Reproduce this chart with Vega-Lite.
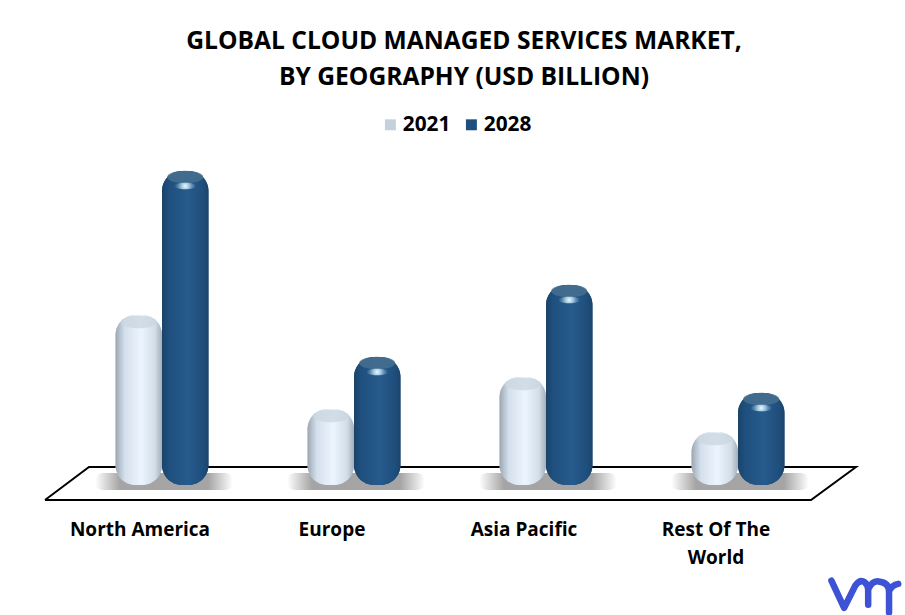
{
"$schema":"https://vega.github.io/schema/vega-lite/v6.json",
"width":768,"height":330,
"autosize":{"type":"none"},
"padding":{"left":66,"top":170,"right":71,"bottom":115},
"background":"white",
"config":{"view":{"stroke":null},"font":"Open Sans"},
"title":{"text":["GLOBAL CLOUD MANAGED SERVICES MARKET,","BY GEOGRAPHY (USD BILLION)"],"font":"Open Sans","fontSize":24.6,"fontWeight":700,"color":"#000000","lineHeight":36,"anchor":"middle","frame":"group","dx":14,"offset":23},
"datasets":{
"sales":[
{"region":"North America","year":"2021","value":42.5},
{"region":"North America","year":"2028","value":78.5},
{"region":"Europe","year":"2021","value":19},
{"region":"Europe","year":"2028","value":32},
{"region":"Asia Pacific","year":"2021","value":27},
{"region":"Asia Pacific","year":"2028","value":50},
{"region":"Rest Of The World","year":"2021","value":13.25},
{"region":"Rest Of The World","year":"2028","value":23}
],
"floor":[
{"fx":-21,"fy":-3.75,"k":0},
{"fx":745,"fy":-3.75,"k":1},
{"fx":790,"fy":4.5,"k":2},
{"fx":23,"fy":4.5,"k":3},
{"fx":-21,"fy":-3.75,"k":4}
],
"shadow":[
{"x0":29,"x1":167,"y0":3,"y1":-1.25},
{"x0":221,"x1":359,"y0":3,"y1":-1.25},
{"x0":413,"x1":551,"y0":3,"y1":-1.25},
{"x0":605,"x1":743,"y0":3,"y1":-1.25}
],
"logo":[{"lx":799,"ly":-27.9,"name":"vmr"}]
},
"data":{"name":"sales"},
"resolve":{"scale":{"x":"independent"}},
"layer":[
{"data":{"name":"floor"},
 "mark":{"type":"line","stroke":"#000000","strokeWidth":2,"clip":false},
 "encoding":{
  "x":{"field":"fx","type":"quantitative","axis":null,"scale":{"domain":[0,768],"nice":false,"zero":false}},
  "y":{"field":"fy","type":"quantitative","axis":null,"scale":{"domain":[-3.75,78.75],"nice":false,"zero":false}},
  "order":{"field":"k","type":"quantitative"}
 }},
{"data":{"name":"shadow"},
 "mark":{"type":"rect","cornerRadius":8,"fill":{"x1":0,"y1":0,"x2":1,"y2":0,"gradient":"linear","stops":[{"offset":0,"color":"rgba(130,130,130,0)"},{"offset":0.18,"color":"rgba(130,130,130,0.72)"},{"offset":0.82,"color":"rgba(130,130,130,0.72)"},{"offset":1,"color":"rgba(130,130,130,0)"}]}},
 "encoding":{
  "x":{"field":"x0","type":"quantitative","axis":null,"scale":{"domain":[0,768],"nice":false,"zero":false}},
  "x2":{"field":"x1"},
  "y":{"field":"y0","type":"quantitative","axis":null,"scale":{"domain":[-3.75,78.75],"nice":false,"zero":false}},
  "y2":{"field":"y1"}
 }},
{"mark":{"type":"bar","cornerRadius":20},
 "encoding":{
  "x":{"field":"region","type":"nominal","sort":null,"scale":{"paddingInner":0.516,"paddingOuter":0.258},
   "axis":{"title":null,"domain":false,"ticks":false,"labelAngle":0,"labelOffset":-22,"labelPadding":29,"labelFont":"Open Sans","labelFontSize":19,"labelFontWeight":700,"labelColor":"#000000","labelLineHeight":28,"labelLimit":300,"labelBaseline":"middle","labelExpr":"datum.label == 'Rest Of The World' ? ['Rest Of The','World'] : datum.label"}},
  "xOffset":{"field":"year","type":"nominal","scale":{"domain":["2021","2028"]}},
  "y":{"field":"value","type":"quantitative","axis":null,"scale":{"domain":[-3.75,78.75],"nice":false,"zero":false}},
  "y2":{"datum":0},
  "fill":{"field":"year","type":"nominal","scale":{"domain":["2021","2028"],"range":["#c4d0dc","#1f4f7e"]},
  "legend":{"title":null,"orient":"none","legendX":314,"legendY":-56,"direction":"horizontal","symbolType":"square","symbolSize":120,"symbolStrokeWidth":0,"labelFont":"Open Sans","labelFontSize":20.8,"labelFontWeight":700,"labelColor":"#000000","columnPadding":10,"labelOffset":2}}
 }},
{"transform":[{"filter":"datum.year == '2021'"}],
 "mark":{"type":"bar","cornerRadius":20,"fill":{"x1":0,"y1":0,"x2":1,"y2":0,"gradient":"linear","stops":[{"offset":0,"color":"#9ca7b2"},{"offset":0.2,"color":"#d4e0ec"},{"offset":0.55,"color":"#ecf5fe"},{"offset":0.85,"color":"#d2dde8"},{"offset":1,"color":"#a4aeb8"}]}},
 "encoding":{
  "x":{"field":"region","type":"nominal","sort":null,"scale":{"paddingInner":0.516,"paddingOuter":0.258},"axis":null},
  "xOffset":{"field":"year","type":"nominal","scale":{"domain":["2021","2028"]}},
  "y":{"field":"value","type":"quantitative","axis":null,"scale":{"domain":[-3.75,78.75],"nice":false,"zero":false}},
  "y2":{"datum":0}
 }},
{"transform":[{"filter":"datum.year == '2028'"}],
 "mark":{"type":"bar","cornerRadius":20,"fill":{"x1":0,"y1":0,"x2":1,"y2":0,"gradient":"linear","stops":[{"offset":0,"color":"#1b4369"},{"offset":0.15,"color":"#1f4f7e"},{"offset":0.55,"color":"#265b8c"},{"offset":0.88,"color":"#1f4e7c"},{"offset":1,"color":"#1b4369"}]}},
 "encoding":{
  "x":{"field":"region","type":"nominal","sort":null,"scale":{"paddingInner":0.516,"paddingOuter":0.258},"axis":null},
  "xOffset":{"field":"year","type":"nominal","scale":{"domain":["2021","2028"]}},
  "y":{"field":"value","type":"quantitative","axis":null,"scale":{"domain":[-3.75,78.75],"nice":false,"zero":false}},
  "y2":{"datum":0}
 }},
{"transform":[{"filter":"datum.year == '2028'"}],
 "mark":{"type":"point","filled":true,"shape":"M-1,0 A1,0.35 0 1,1 1,0 A1,0.35 0 1,1 -1,0 Z","size":1300,"fill":"#47708f","opacity":0.85,"yOffset":6},
 "encoding":{
  "x":{"field":"region","type":"nominal","sort":null,"scale":{"paddingInner":0.516,"paddingOuter":0.258},"axis":null},
  "xOffset":{"field":"year","type":"nominal","scale":{"domain":["2021","2028"]}},
  "y":{"field":"value","type":"quantitative","axis":null,"scale":{"domain":[-3.75,78.75],"nice":false,"zero":false}}
 }},
{"transform":[{"filter":"datum.year == '2028'"}],
 "mark":{"type":"point","filled":true,"shape":"M-1,0 A1,0.3 0 1,1 1,0 A1,0.3 0 1,1 -1,0 Z","size":500,"opacity":1,"yOffset":15,"fill":{"gradient":"radial","x1":0.5,"y1":0.5,"r1":0,"x2":0.5,"y2":0.5,"r2":0.5,"stops":[{"offset":0,"color":"rgba(245,252,255,1)"},{"offset":0.35,"color":"rgba(190,225,245,0.8)"},{"offset":1,"color":"rgba(120,170,205,0)"}]}},
 "encoding":{
  "x":{"field":"region","type":"nominal","sort":null,"scale":{"paddingInner":0.516,"paddingOuter":0.258},"axis":null},
  "xOffset":{"field":"year","type":"nominal","scale":{"domain":["2021","2028"]}},
  "y":{"field":"value","type":"quantitative","axis":null,"scale":{"domain":[-3.75,78.75],"nice":false,"zero":false}}
 }},
{"transform":[{"filter":"datum.year == '2021'"}],
 "mark":{"type":"point","filled":true,"shape":"M-1,0 A1,0.35 0 1,1 1,0 A1,0.35 0 1,1 -1,0 Z","size":1300,"fill":"#c9d5df","opacity":0.75,"yOffset":7},
 "encoding":{
  "x":{"field":"region","type":"nominal","sort":null,"scale":{"paddingInner":0.516,"paddingOuter":0.258},"axis":null},
  "xOffset":{"field":"year","type":"nominal","scale":{"domain":["2021","2028"]}},
  "y":{"field":"value","type":"quantitative","axis":null,"scale":{"domain":[-3.75,78.75],"nice":false,"zero":false}}
 }},
{"data":{"name":"logo"},
 "mark":{"type":"point","filled":false,"stroke":"#3d52d5","strokeWidth":6.5,"opacity":1,"strokeCap":"round","strokeJoin":"round","size":5000,"shape":"M-0.95,-0.45 L-0.59,0.32 L-0.27,-0.32 Q-0.14,-0.5 0.0,-0.4 Q0.09,-0.32 0.09,-0.2 L0.09,0.23 M0.09,-0.2 Q0.2,-0.45 0.38,-0.43 Q0.68,-0.4 0.68,-0.15 L0.68,0.45 M0.68,-0.15 Q0.76,-0.33 0.94,-0.36"},
 "encoding":{
  "x":{"field":"lx","type":"quantitative","axis":null,"scale":{"domain":[0,768],"nice":false,"zero":false}},
  "y":{"field":"ly","type":"quantitative","axis":null,"scale":{"domain":[-3.75,78.75],"nice":false,"zero":false}}
 }}
]
}
